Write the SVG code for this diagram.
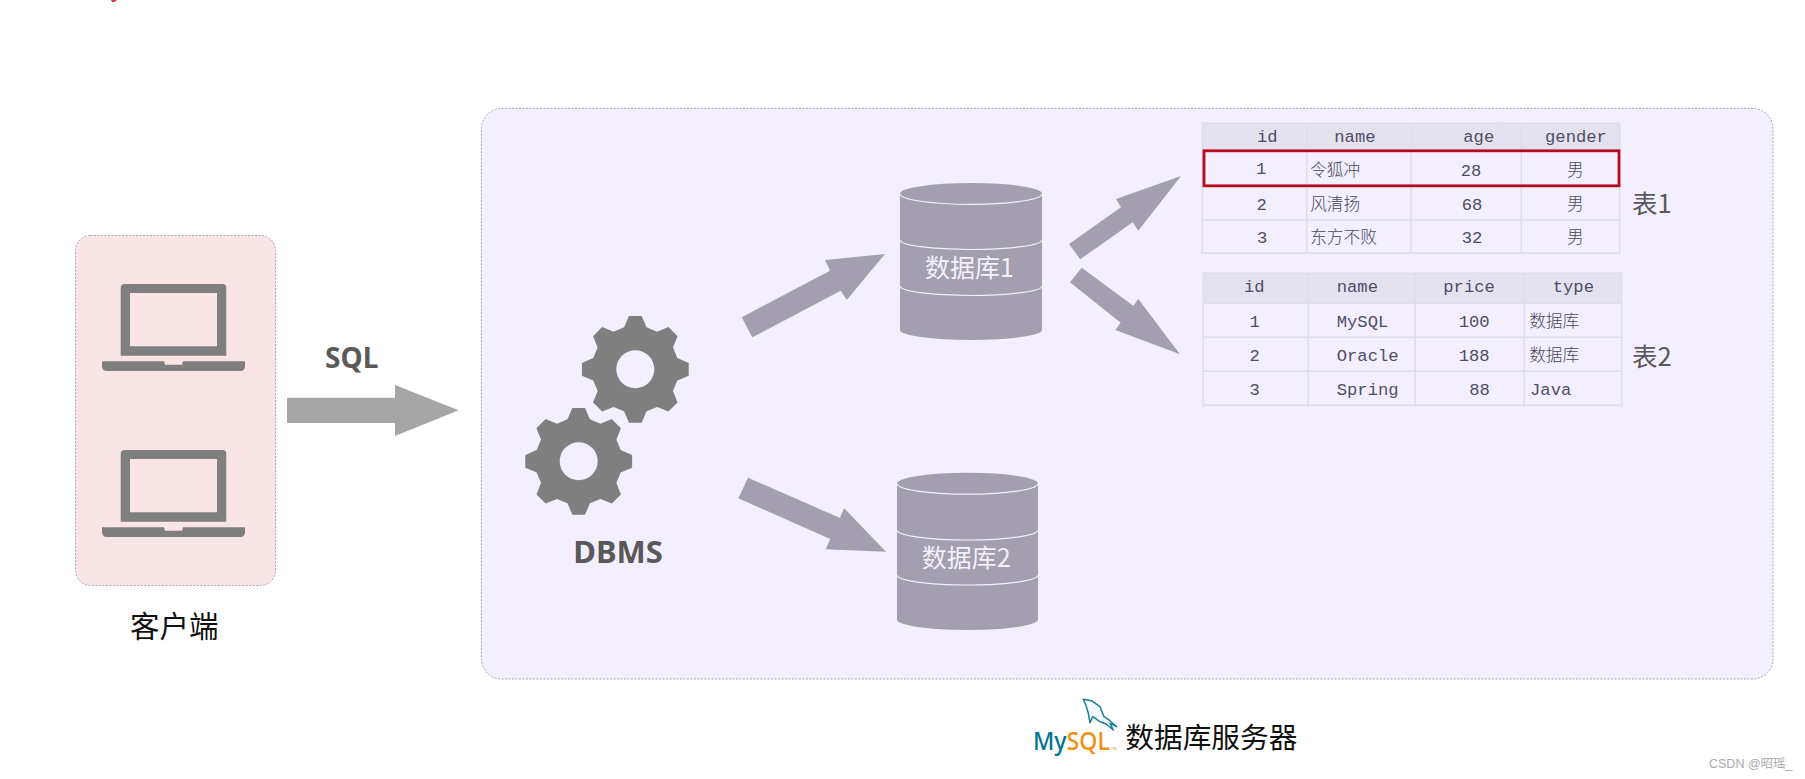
<svg xmlns="http://www.w3.org/2000/svg" xmlns:xlink="http://www.w3.org/1999/xlink" width="1805" height="779" viewBox="0 0 1805 779">
<style>
.panel{stroke:#a9a5b5;stroke-width:1;stroke-dasharray:2 1.5}
.icon{fill:#7f7f7f}
.arrow{fill:#a39fae}
.db{fill:#a39fae}
.dbl{fill:none;stroke:#f3effe;stroke-width:1.2}
.dbt{font:25px "Noto Sans CJK SC","Liberation Sans",sans-serif;fill:#f3f0fa;text-anchor:middle}
.hb{font:bold 28px "Noto Sans","Noto Sans CJK SC",sans-serif;fill:#595959;text-anchor:middle}
.cn{font:29.5px "Noto Sans CJK SC",sans-serif;fill:#111}
.m{font:17.2px "Liberation Mono",monospace;fill:#504d66}
.c{font:16.7px "Noto Sans CJK SC",sans-serif;font-weight:300;fill:#4a475c}
.g{fill:none;stroke:#e0ddea;stroke-width:1.4}
.h{fill:#e5e2ef}
.tl{font:25.5px "Noto Sans CJK SC","Liberation Sans",sans-serif;fill:#595959}
</style>
<defs>
<path id="gear" fill-rule="evenodd" d="M-6.33-53.4H6.33L11.26-42.02L21.75-37.67L33.08-42.25L42.25-33.08L37.67-21.75L42.02-11.26L53.4-6.33V6.33L42.02 11.26L37.67 21.75L42.25 33.08L33.08 42.25L21.75 37.67L11.26 42.02L6.33 53.4H-6.33L-11.26 42.02L-21.75 37.67L-33.08 42.25L-42.25 33.08L-37.67 21.75L-42.02 11.26L-53.4 6.33V-6.33L-42.02-11.26L-37.67-21.75L-42.25-33.08L-33.08-42.25L-21.75-37.67L-11.26-42.02ZM-19 0A19 19 0 0 0 19 0A19 19 0 0 0-19 0Z"/>
<path id="laptop" fill-rule="evenodd" d="M124.7 284H222.3Q226.3 284 226.3 288V355.7H120.7V288Q120.7 284 124.7 284ZM130 293V346.3H217V293ZM102 361.3H164L165 364.7H182L183 361.3H245V366Q245 371 240 371H107Q102 371 102 366Z"/>
</defs>
<rect width="1805" height="779" fill="#fff"/>
<path d="M111 0H117L114.5 2H112Z" fill="#d23a3a"/>

<g id="client">
<rect class="panel" x="75.5" y="235.5" width="200" height="350" rx="15" fill="#f9e5e6"/>
<use id="laptop1" class="icon" xlink:href="#laptop" href="#laptop"/>
<use id="laptop2" class="icon" xlink:href="#laptop" href="#laptop" y="166"/>
<text class="cn" x="130" y="637">客户端</text>
</g>
<g id="server">
<rect class="panel" x="481.5" y="108.5" width="1291.5" height="570.5" rx="20" fill="#f3effe"/>
</g>
<g id="dbms">
<use class="icon" xlink:href="#gear" href="#gear" x="635.3" y="369.3"/>
<use class="icon" xlink:href="#gear" href="#gear" x="578.7" y="461.3"/>
<text class="hb" x="618" y="563" style="font-size:31px">DBMS</text>
</g>
<g id="sql-label"><text class="hb" x="351.7" y="368">SQL</text></g>

<g id="connectors">
<path fill="#a6a6a6" d="M287 397.7H395V385L458.7 410.3L395 436V423H287Z"/>
<path class="arrow" d="M741.7 317.3L830 270.7L825 260L885 254L846.7 300L840.7 290.7L752.3 337.3Z"/>
<path class="arrow" d="M1069 244L1121 207.3L1116 199L1181 176L1138.3 230.7L1132.7 222.3L1080.3 259.3Z"/>
<path class="arrow" d="M1081.7 267.7L1133.3 305.7L1138.3 299L1180 354.3L1115.3 330L1120.7 322.7L1070 282.3Z"/>
<path class="arrow" d="M748 477.7L840 518L844 508L886 551.7L825.7 549.3L830.3 539L738.3 498.3Z"/>
</g>

<g id="db1">
<path class="db" d="M900 193.7A71 10.7 0 0 1 1042 193.7V330A71 10 0 0 1 900 330Z"/>
<path class="dbl" d="M900 193.7A71 10.7 0 0 0 1042 193.7M900 240A71 9.5 0 0 0 1042 240M900 286A71 9.5 0 0 0 1042 286"/>
<text class="dbt" x="969.5" y="276.5">数据库1</text>
</g>
<g id="db2">
<path class="db" d="M897 483.5A70.5 10.7 0 0 1 1038 483.5V619.5A70.5 10.5 0 0 1 897 619.5Z"/>
<path class="dbl" d="M897 483.5A70.5 10.7 0 0 0 1038 483.5M897 530A70.5 10 0 0 0 1038 530M897 575A70.5 10 0 0 0 1038 575"/>
<text class="dbt" x="966.2" y="567">数据库2</text>
</g>

<g id="table1">
<rect class="h" x="1202.3" y="123.3" width="417.4" height="26"/>
<path class="g" d="M1202.3 123.3H1619.7V253.3H1202.3ZM1202.3 149.3H1619.7M1202.3 186.7H1619.7M1202.3 220H1619.7M1306.7 123.3V253.3M1411 123.3V253.3M1521.3 123.3V253.3M1501.7 121V123"/>
<rect x="1204" y="150.8" width="415" height="35" fill="none" stroke="#b70a1e" stroke-width="2.8"/>
<g class="m">
<text x="1257" y="142">id</text><text x="1334.3" y="142">name</text><text x="1463.3" y="142">age</text><text x="1545" y="142">gender</text>
<text x="1256" y="174">1</text><text x="1460.7" y="176">28</text>
<text x="1256.5" y="209.5">2</text><text x="1461.7" y="209.5">68</text>
<text x="1257" y="243">3</text><text x="1461.7" y="243">32</text>
</g>
<g class="c">
<text x="1310.2" y="176">令狐冲</text><text x="1567" y="176">男</text>
<text x="1310.2" y="209.5">风清扬</text><text x="1567" y="209.5">男</text>
<text x="1310.2" y="243">东方不败</text><text x="1567" y="243">男</text>
</g>
<text class="tl" x="1632" y="213">表1</text>
</g>

<g id="table2">
<rect class="h" x="1203.3" y="273.3" width="418.4" height="30"/>
<path class="g" d="M1203.3 406.7V273.3H1621.7V406.7M1203.3 303.3H1621.7M1203.3 337.3H1621.7M1203.3 371.3H1621.7M1203.3 405.3H1621.7M1308.3 273.3V406.7M1415.3 273.3V406.7M1524.3 273.3V406.7M1478 272V273"/>
<g class="m">
<text x="1244" y="292.3">id</text><text x="1336.7" y="292.3">name</text><text x="1443.3" y="292.3">price</text><text x="1552.7" y="292.3">type</text>
<text x="1249.5" y="326.7">1</text><text x="1336.7" y="326.7">MySQL</text><text x="1458.7" y="326.7">100</text>
<text x="1249.5" y="360.7">2</text><text x="1336.7" y="360.7">Oracle</text><text x="1458.7" y="360.7">188</text>
<text x="1249.5" y="394.7">3</text><text x="1336.7" y="394.7">Spring</text><text x="1469.3" y="394.7">88</text><text x="1530" y="394.7">Java</text>
</g>
<g class="c">
<text x="1529.2" y="326.7">数据库</text><text x="1529.2" y="360.7">数据库</text>
</g>
<text class="tl" x="1632" y="366">表2</text>
</g>

<g id="mysql-label">
<path d="M1083.3 699.3L1091.5 700.7L1100 706.7L1104 716.7L1110 720.7L1116.7 726.7L1110 723.3L1113.3 730L1106 724L1100 721.7L1092.7 716.7L1090 722.7L1088.3 713.3L1086 705.5Z" fill="#f4fafc" stroke="#17809a" stroke-width="1.5" stroke-linejoin="round"/>
<text x="1033" y="749.5" textLength="77" lengthAdjust="spacingAndGlyphs" style="font:500 25px 'Noto Sans',sans-serif"><tspan fill="#00758f">My</tspan><tspan fill="#f29111">SQL</tspan></text>
<text x="1111.5" y="749.5" style="font:3.5px 'Liberation Sans',sans-serif;fill:#f29111">TM</text>
<text x="1125.3" y="748" style="font:28.7px 'Noto Sans CJK SC',sans-serif;fill:#111">数据库服务器</text>
</g>
<g id="watermark"><text x="1709" y="768" style="font:12.5px 'Liberation Sans','Noto Sans CJK SC',sans-serif;fill:#aaa">CSDN @昭瑶_</text></g>
</svg>
